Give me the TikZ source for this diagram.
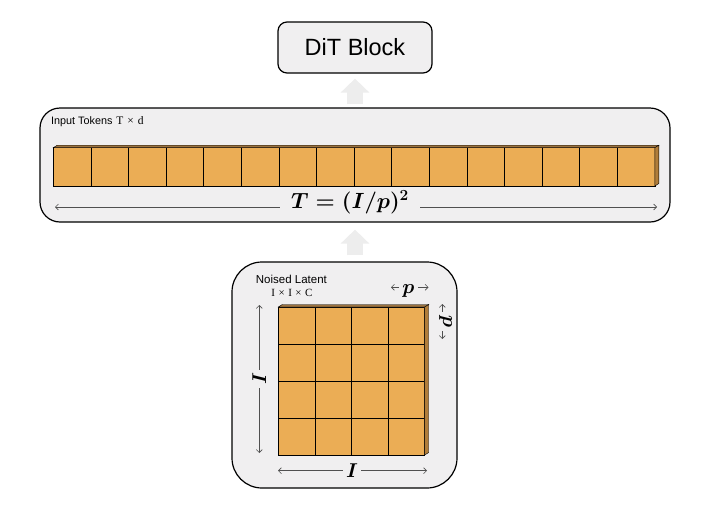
\RequirePackage{fix-cm}
\documentclass[tikz,border=0pt]{standalone}
\usepackage{fontspec}
\setmainfont{Liberation Sans}
\newfontfamily\serifx{Liberation Serif}
\usetikzlibrary{arrows.meta}
\definecolor{boxgray}{HTML}{F0EFF0}
\definecolor{tokorange}{HTML}{EBAD55}
\definecolor{toptone}{HTML}{9C7340}
\definecolor{sidetone}{HTML}{B07D3A}
\definecolor{fatgray}{HTML}{EDEDED}
\definecolor{dimgray}{HTML}{505050}
\begin{document}
\begin{tikzpicture}[x=1pt,y=-1pt,
  panel/.style={draw=black, line width=1.2pt, fill=boxgray, inner sep=0pt},
  cell/.style={draw=black, line width=0.6pt, fill=tokorange, minimum width=37.6pt, minimum height=38.3pt, inner sep=0pt, outer sep=0pt, anchor=north west},
  gcell/.style={draw=black, line width=0.6pt, fill=tokorange, minimum width=36.6pt, minimum height=37pt, inner sep=0pt, outer sep=0pt, anchor=north west},
  face/.style={draw=black, line width=0.4pt},
  dimline/.style={draw=dimgray, line width=0.6pt, {Straight Barb[length=3pt,width=6pt]}-{Straight Barb[length=3pt,width=6pt]}},
  fatarrow/.style={draw=fatgray, line width=16pt, -{Triangle[length=14pt,width=28pt]}},
  dimlabel/.style={fill=boxgray, inner ysep=1pt, font=\fontsize{20}{24}\selectfont\boldmath},
  small/.style={anchor=west, inner sep=0pt}
]
\useasboundingbox (0,0) rectangle (726,520);

% boxes
\node[panel, rounded corners=9pt, minimum width=154pt, minimum height=51pt,
      font=\fontsize{23.5}{28}\selectfont] (dit) at (355,47.5) {DiT Block};
\node[panel, rounded corners=20pt, minimum width=630pt, minimum height=114pt] (tokbox) at (355,165) {};
\node[panel, rounded corners=30pt, minimum width=225pt, minimum height=226pt] (latent) at (344.5,375) {};

% fat arrows
\draw[fatarrow] ([yshift=3pt]tokbox.north) -- ([yshift=-5pt]dit.south);
\draw[fatarrow] ([yshift=6pt]latent.north -| tokbox.south) -- ([yshift=-7pt]tokbox.south);

% token label
\node[small, font=\fontsize{10.8}{13}\selectfont] (toklabel) at (51,121.5)
  {Input Tokens {\serifx\fontsize{11.5}{13}\selectfont\hspace{1pt}T\hspace{4pt}×\hspace{4pt}d}};

% tokens
\foreach \i in {0,...,15} \node[cell] (t\i) at ({53.3+37.6*\i},147.7) {};
\draw[face, fill=toptone] (t0.north west) -- ++(4,-2.5) -- ([shift={(4,-2.5)}]t15.north east) -- (t15.north east) -- cycle;
\draw[face, fill=sidetone] (t15.north east) -- ++(4,-2.5) -- ([shift={(4,-2.5)}]t15.south east) -- (t15.south east) -- cycle;

% T dimension
\coordinate (tl) at (55,207);
\coordinate (tr) at (657,207);
\draw[dimline] (tl) -- (tr);
\node[fill=boxgray, inner xsep=11pt, inner ysep=1pt, font=\fontsize{22}{26}\selectfont\boldmath] (tlab) at (350,202) {$T=(I/p)^2$};

% latent labels
\node[small, font=\fontsize{11.5}{14}\selectfont] (latlabel) at (255.7,279) {Noised Latent};
\node[small, font=\serifx\fontsize{11}{13}\selectfont] (latdim) at (271.2,292.8) {I\hspace{3.5pt}×\hspace{3.5pt}I\hspace{3.5pt}×\hspace{3.5pt}C};

% grid
\foreach \r in {0,...,3} \foreach \c in {0,...,3}
  \node[gcell] (g\r\c) at ({278.3+36.6*\c},{307+37*\r}) {};
\draw[face, fill=toptone] (g00.north west) -- ++(4,-2.5) -- ([shift={(4,-2.5)}]g03.north east) -- (g03.north east) -- cycle;
\draw[face, fill=sidetone] (g03.north east) -- ++(4,-2.5) -- ([shift={(4,-2.5)}]g33.south east) -- (g33.south east) -- cycle;

% I dimensions
\coordinate (vt) at (259.3,305);
\coordinate (vb) at (259.3,453);
\draw[dimline] (vt) -- (vb);
\node[dimlabel, rotate=90, inner xsep=3pt] (ivlab) at (259.3,379) {$I$};
\coordinate (hl) at (278,470.7);
\coordinate (hr) at (427,470.7);
\draw[dimline] (hl) -- (hr);
\node[dimlabel, inner xsep=3pt] (ihlab) at (352,470.7) {$I$};

% p dimensions
\coordinate (pl) at (391,287.3);
\coordinate (pr) at (428.5,287.3);
\draw[dimline] (pl) -- (pr);
\node[dimlabel, inner xsep=3pt, inner ysep=0pt] (phlab) at (408.5,290.5) {$p$};
\coordinate (pt) at (442.3,304);
\coordinate (pb) at (442.3,339);
\draw[dimline] (pt) -- (pb);
\node[dimlabel, rotate=-90, inner xsep=3pt, inner ysep=0pt] (pvlab) at (445.5,321.5) {$p$};
\end{tikzpicture}
\end{document}
